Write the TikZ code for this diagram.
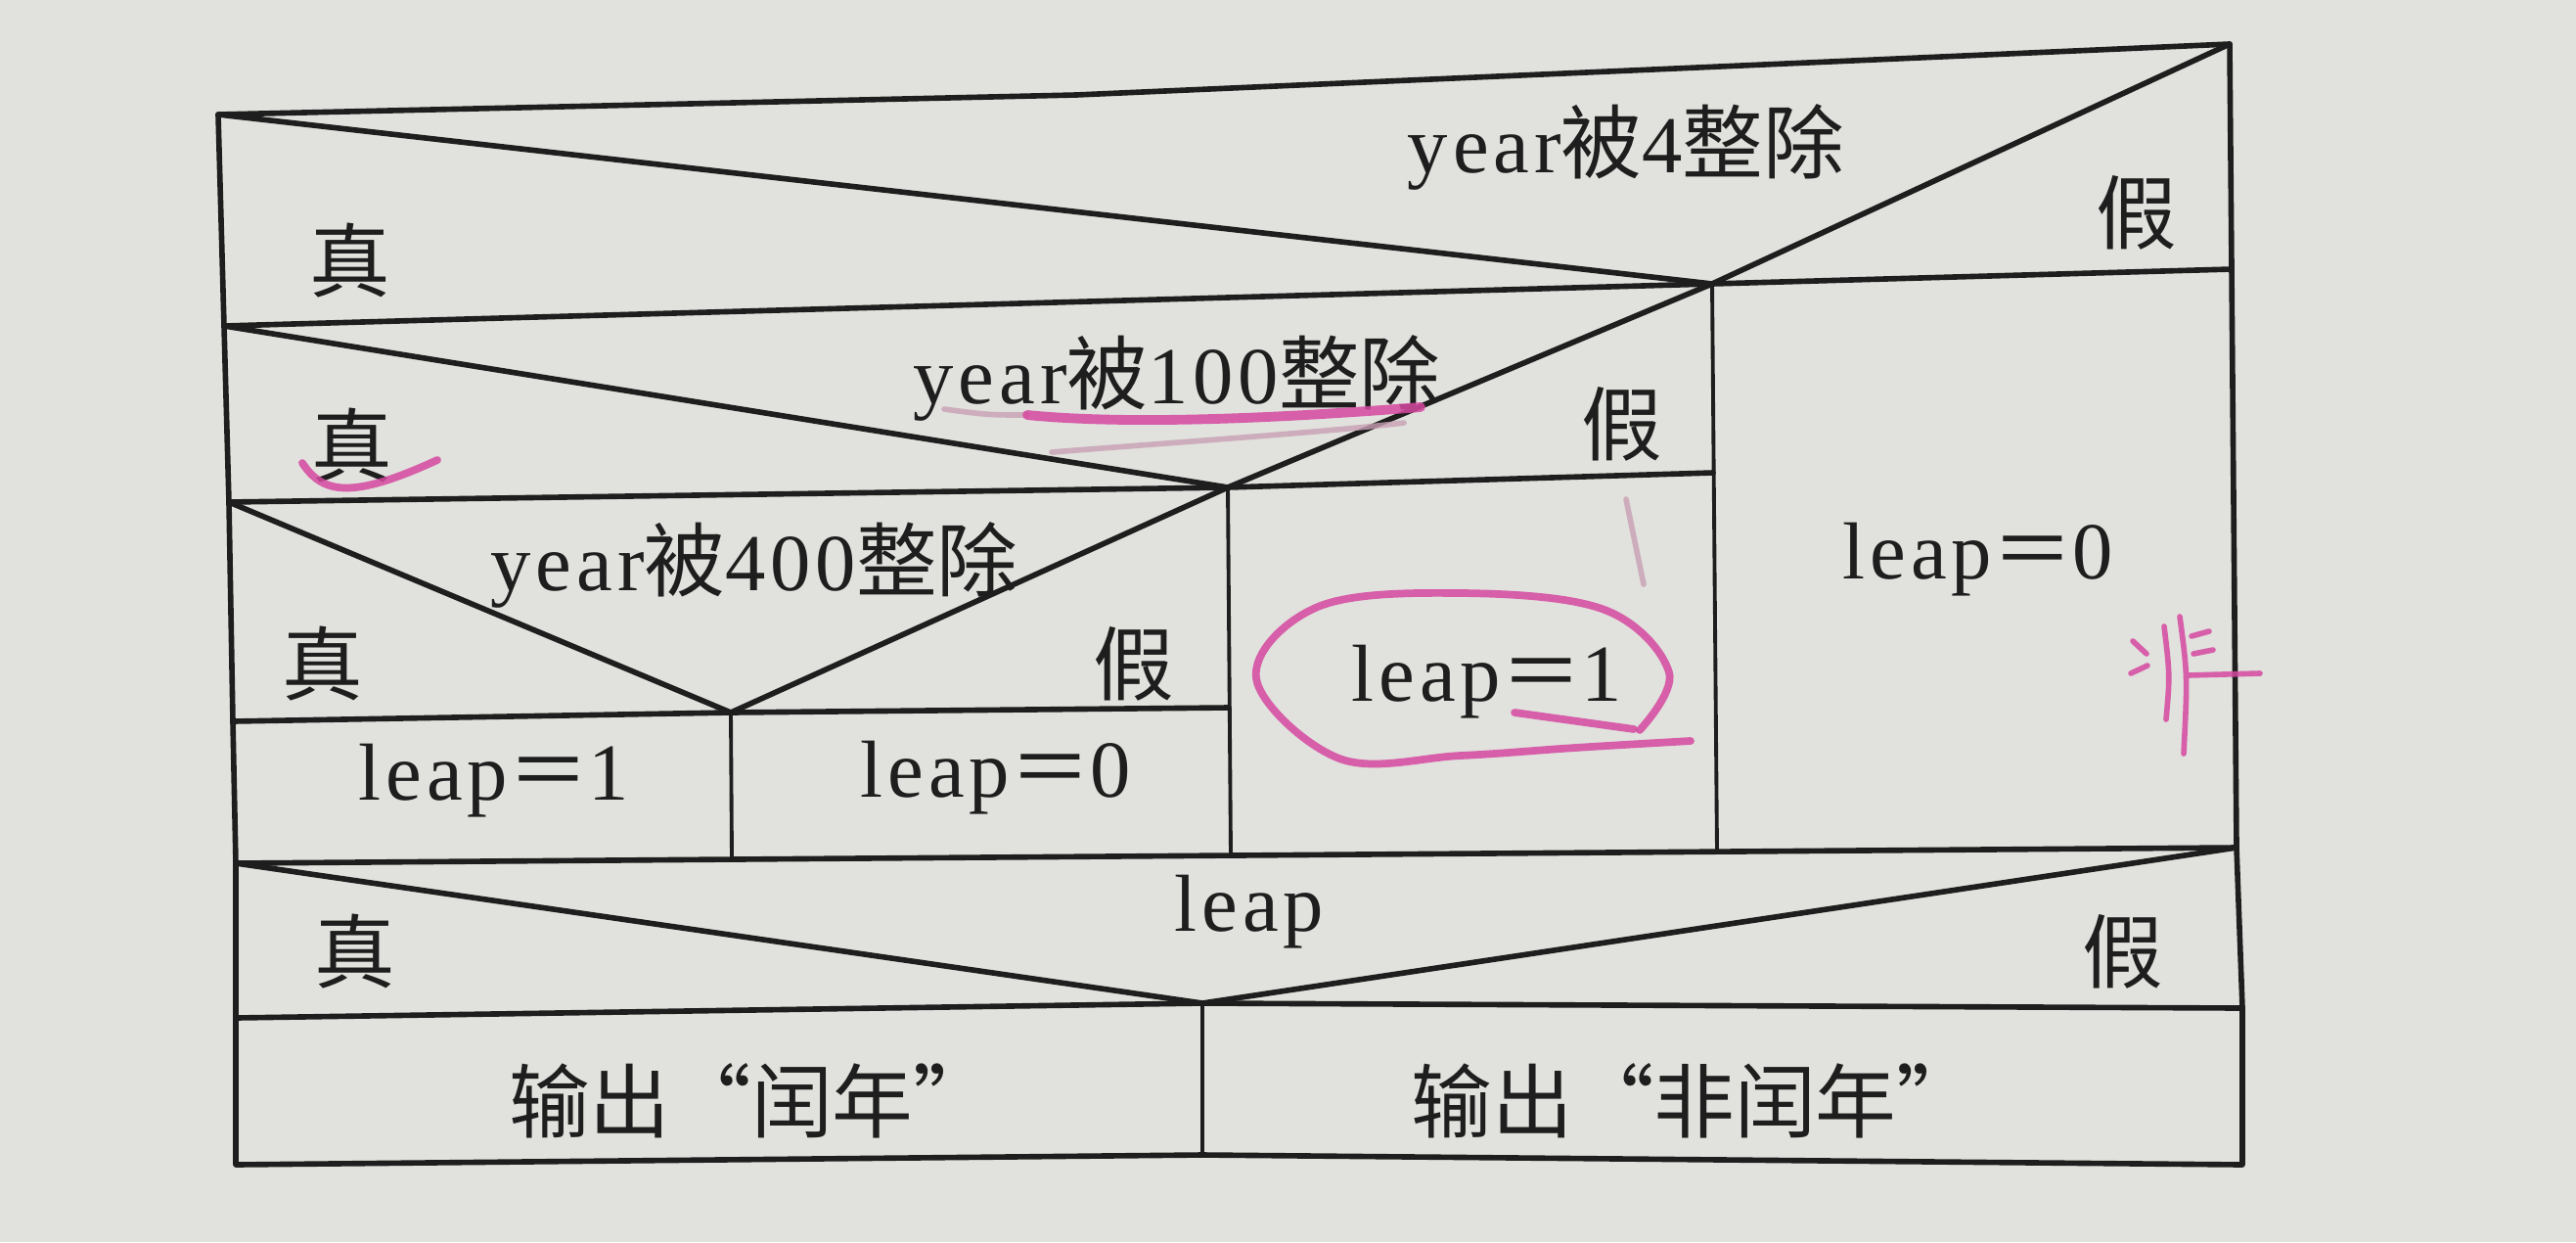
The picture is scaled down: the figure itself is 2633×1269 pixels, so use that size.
\documentclass[tikz,border=0pt]{standalone}
\usepackage{fontspec}
\setmainfont[LetterSpace=6]{Liberation Serif}
\newfontfamily\cjk{Noto Sans CJK SC}
\definecolor{paper}{RGB}{225,225,221}
\definecolor{ink}{RGB}{30,30,30}
\definecolor{pinkpen}{RGB}{214,72,160}
\definecolor{palepen}{RGB}{200,160,180}
\begin{document}
\begin{tikzpicture}[x=0.01cm,y=-0.01cm,
  frame/.style={draw=ink,line width=1.6pt,line join=round,line cap=round},
  inner/.style={draw=ink,line width=1.1pt,line cap=round},
  txt/.style={inner sep=0pt,font=\fontsize{23.5pt}{28pt}\selectfont,text=ink},
  pen/.style={draw=pinkpen,line width=2.2pt,line cap=round,line join=round,opacity=0.85},
  palestroke/.style={draw=palepen,line width=1.6pt,line cap=round,opacity=0.8}]
\fill[paper] (0,0) rectangle (2633,1269);
\useasboundingbox (0,0) rectangle (2633,1269);
% key points
\coordinate (TL) at (223,117);
\coordinate (TM) at (1100,97);
\coordinate (TR) at (2279,45);
\coordinate (R1L) at (229,333);
\coordinate (V1) at (1750,290);
\coordinate (R1R) at (2281,275);
\coordinate (V2) at (1255,498);
\coordinate (R2L) at (234,513);
\coordinate (R2M) at (1751,483);
\coordinate (V3) at (747,728);
\coordinate (R3L) at (238,737);
\coordinate (R3M) at (1256,723);
\coordinate (R4L) at (241,882);
\coordinate (R4R) at (2286,866);
\coordinate (V4) at (1229,1025);
\coordinate (R5L) at (241,1040);
\coordinate (R5R) at (2292,1030);
\coordinate (BL) at (241,1190);
\coordinate (BM) at (1229,1180);
\coordinate (BR) at (2292,1190);
\coordinate (V3b) at (748,878);
\coordinate (V2b) at (1258,874);
\coordinate (V1b) at (1755,870);
% outer frame
\draw[frame] (TL) -- (TM) -- (TR) -- (R1R) -- (R4R) -- (R5R) -- (BR) -- (BM) -- (BL) -- (R5L) -- (R4L) -- (R3L) -- (R2L) -- (R1L) -- cycle;
% row 1
\draw[frame] (TL) -- (V1) -- (TR);
\draw[frame] (R1L) -- (V1) -- (R1R);
% row 2
\draw[frame] (R1L) -- (V2) -- (V1);
\draw[frame] (R2L) -- (V2) -- (R2M);
\draw[inner] (V1) -- (V1b);
% row 3
\draw[frame] (R2L) -- (V3) -- (V2);
\draw[frame] (R3L) -- (V3) -- (R3M);
\draw[inner] (V3) -- (V3b);
\draw[inner] (V2) -- (V2b);
% row 4
\draw[frame] (R4L) -- (R4R);
\draw[frame] (R4L) -- (V4) -- (R4R);
\draw[frame] (R5L) -- (V4) -- (R5R);
\draw[inner] (V4) -- (BM);
% texts
\node[txt] (c1) at (1662,150) {year{\cjk 被}4{\cjk 整除}};
\node[txt] (t1) at (358,266) {\cjk 真};
\node[txt] (f1) at (2184,217) {\cjk 假};
\node[txt] (c2) at (1203,386) {year{\cjk 被}100{\cjk 整除}};
\node[txt] (t2) at (360,455) {\cjk 真};
\node[txt] (f2) at (1658,433) {\cjk 假};
\node[txt] (c3) at (771,577) {year{\cjk 被}400{\cjk 整除}};
\node[txt] (t3) at (330,678) {\cjk 真};
\node[txt] (f3) at (1159,678) {\cjk 假};
\node[txt] (a1) at (505,798) {leap{\cjk ＝}1};
\node[txt] (a2) at (1018,795) {leap{\cjk ＝}0};
\node[txt] (a3) at (1520,697) {leap{\cjk ＝}1};
\node[txt] (a4) at (2022,572) {leap{\cjk ＝}0};
\node[txt] (c4) at (1277,932) {leap};
\node[txt] (t4) at (363,972) {\cjk 真};
\node[txt] (f4) at (2170,972) {\cjk 假};
\node[txt] (o1) at (768,1125) {\cjk 输出“闰年”};
\node[txt] (o2) at (1732,1125) {\cjk 输出“非闰年”};
% handwritten pink marks
\draw[pen] plot[smooth,tension=0.6] coordinates {(1676,746) (1706,687) (1640,623) (1493,606) (1347,620) (1284,693) (1369,775) (1493,772) (1610,764) (1728,757)};
\draw[pen] (1548,728) -- (1670,745);
\draw[palestroke] (965,418) .. controls (1010,424) .. (1050,424);
\draw[pen,line width=2.8pt] (1050,424) .. controls (1150,434) and (1300,428) .. (1452,416);
\draw[palestroke] (1075,462) .. controls (1200,452) and (1350,442) .. (1435,432);
\draw[pen] (309,473) .. controls (330,505) and (360,510) .. (447,470);
\draw[palestroke] (1662,510) -- (1680,597);
\draw[pen,line width=1.6pt] (2180,655) -- (2194,668) (2178,688) -- (2195,680) (2212,640) .. controls (2218,690) .. (2214,735) (2228,630) .. controls (2236,690) .. (2232,770) (2240,650) -- (2258,645) (2242,668) -- (2262,664) (2236,690) -- (2310,688);
\end{tikzpicture}
\end{document}
